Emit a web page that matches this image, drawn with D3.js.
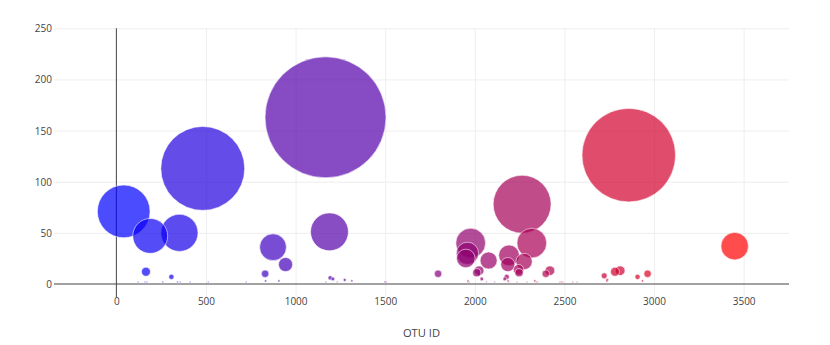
<!DOCTYPE html>
<html>
<head>
<meta charset="utf-8">
<script src="https://cdn.jsdelivr.net/npm/d3@7"></script>
<style>
  html, body { margin: 0; padding: 0; background: #fff; }
  svg { display: block; }
  text { font-family: "Open Sans", verdana, arial, sans-serif; fill: #444; }
</style>
</head>
<body>
<svg id="chart" width="830" height="345"></svg>
<script>
// OTU ids (x) and sample values (y and bubble size), sample 940
const otuIds = [1167, 2859, 482, 2264, 41, 1189, 352, 189, 2318, 1977,
  3450, 874, 1959, 2191, 1950, 2077, 2275, 944, 2184, 2244,
  2024, 2419, 2811, 165, 2782, 2247, 2011, 2396, 830, 2964,
  1795, 2722, 307, 2178, 2908, 1193, 2167, 1208, 2039, 1274,
  2739, 2737, 1314, 1962, 2186, 2335, 2936, 907, 833, 2483,
  2475, 2491, 2291, 159, 2571, 2350, 2342, 2546, 725, 170,
  1505, 513, 259, 1169, 258, 1232, 1497, 1498, 1503, 412,
  2235, 1960, 1968, 121, 2065, 340, 2110, 2188, 357, 342];
const sampleValues = [163, 126, 113, 78, 71, 51, 50, 47, 40, 40,
  37, 36, 30, 28, 25, 23, 22, 19, 19, 14,
  13, 13, 13, 12, 12, 11, 11, 10, 10, 10,
  10, 8, 7, 7, 7, 6, 5, 5, 5, 4,
  4, 3, 3, 3, 3, 3, 3, 3, 3, 2,
  2, 2, 2, 2, 2, 2, 2, 2, 2, 2,
  2, 2, 2, 2, 2, 2, 2, 2, 2, 2,
  2, 2, 2, 2, 2, 2, 2, 2, 2, 2];
const xTicks = [0, 500, 1000, 1500, 2000, 2500, 3000, 3500];
const yTicks = [0, 50, 100, 150, 200, 250];
const xTitle = "OTU ID";

const svg = d3.select("#chart");
const L = 54, R = 789, T = 28.3, B = 297;

const x = d3.scaleLinear().domain([-348, 3753]).range([L, R]);
const y = d3.scaleLinear().domain([-12.7, 250]).range([B, T]);
const color = d3.scaleLinear()
  .domain([d3.min(otuIds), d3.max(otuIds)])
  .range(["rgb(0,0,255)", "rgb(255,0,0)"])
  .interpolate(d3.interpolateRgb);
const size = d3.scaleLinear().domain([0, 1]).range([0, 0.371]); // radius per value

// x grid + labels
const gx = svg.append("g")
  .attr("transform", `translate(0,${B})`)
  .call(d3.axisBottom(x).tickValues(xTicks).tickSize(-(B - T)).tickPadding(1)
    .tickFormat(d3.format("d")));
gx.select(".domain").remove();
gx.selectAll("line").attr("stroke", "#eee").attr("stroke-width", 1)
  .filter(d => d === 0).remove();
gx.selectAll("text").attr("font-size", "10px").attr("fill", "#444")
  .attr("font-family", '"Open Sans", verdana, arial, sans-serif');

// y grid + labels
const gy = svg.append("g")
  .attr("transform", `translate(${L},0)`)
  .call(d3.axisLeft(y).tickValues(yTicks).tickSize(-(R - L)).tickPadding(2)
    .tickFormat(d3.format("d")));
gy.select(".domain").remove();
gy.selectAll("line").attr("stroke", "#eee").attr("stroke-width", 1)
  .filter(d => d === 0).remove();
gy.selectAll("text").attr("font-size", "10px").attr("fill", "#444")
  .attr("dy", "0.35em")
  .attr("font-family", '"Open Sans", verdana, arial, sans-serif');

// zero lines
svg.append("line")
  .attr("x1", x(0)).attr("x2", x(0)).attr("y1", T).attr("y2", B)
  .attr("stroke", "#444").attr("stroke-width", 1);
svg.append("line")
  .attr("x1", L).attr("x2", R).attr("y1", y(0)).attr("y2", y(0))
  .attr("stroke", "#444").attr("stroke-width", 1);

// bubbles
const data = otuIds.map((id, i) => ({ id, v: sampleValues[i] }));
svg.append("g")
  .selectAll("circle")
  .data(data)
  .join("circle")
  .attr("cx", d => x(d.id))
  .attr("cy", d => y(d.v))
  .attr("r", d => size(d.v))
  .attr("fill", d => color(d.id))
  .attr("fill-opacity", 0.7)
  .attr("stroke", "#fff")
  .attr("stroke-opacity", 0.7)
  .attr("stroke-width", 0.8);

// axis title
svg.append("text")
  .attr("x", (L + R) / 2)
  .attr("y", 337)
  .attr("text-anchor", "middle")
  .attr("font-size", "11.2px")
  .text(xTitle);
</script>
</body>
</html>
